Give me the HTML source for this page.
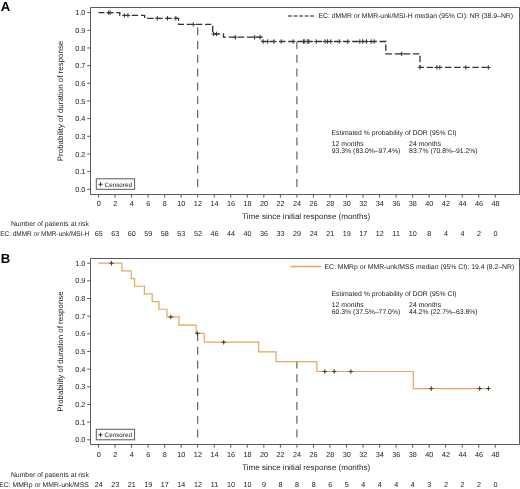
<!DOCTYPE html>
<html><head><meta charset="utf-8"><title>Duration of response</title>
<style>
html,body{margin:0;padding:0;background:#fff;}
body{width:520px;height:489px;overflow:hidden;}
svg{display:block;font-family:'Liberation Sans', Arial, Helvetica, sans-serif;text-rendering:geometricPrecision;}
</style></head><body>
<svg width="520" height="489" viewBox="0 0 520 489" shape-rendering="auto">
<rect width="520" height="489" fill="#fff"/>
<text x="0.7" y="11.2" font-size="13.2" font-weight="bold" fill="#000">A</text>
<path d="M90.5 7.5 H519.5 V194.5 H90.5 Z" fill="none" stroke="#5a5a5a" stroke-width="1"/>
<line x1="87.2" y1="189.3" x2="90.5" y2="189.3" stroke="#5a5a5a" stroke-width="1"/>
<text x="85.4" y="191.9" font-size="7.25" text-anchor="end" fill="#222">0.0</text>
<line x1="87.2" y1="171.63" x2="90.5" y2="171.63" stroke="#5a5a5a" stroke-width="1"/>
<text x="85.4" y="174.23" font-size="7.25" text-anchor="end" fill="#222">0.1</text>
<line x1="87.2" y1="153.96" x2="90.5" y2="153.96" stroke="#5a5a5a" stroke-width="1"/>
<text x="85.4" y="156.56" font-size="7.25" text-anchor="end" fill="#222">0.2</text>
<line x1="87.2" y1="136.29" x2="90.5" y2="136.29" stroke="#5a5a5a" stroke-width="1"/>
<text x="85.4" y="138.89" font-size="7.25" text-anchor="end" fill="#222">0.3</text>
<line x1="87.2" y1="118.62" x2="90.5" y2="118.62" stroke="#5a5a5a" stroke-width="1"/>
<text x="85.4" y="121.22" font-size="7.25" text-anchor="end" fill="#222">0.4</text>
<line x1="87.2" y1="100.95" x2="90.5" y2="100.95" stroke="#5a5a5a" stroke-width="1"/>
<text x="85.4" y="103.55" font-size="7.25" text-anchor="end" fill="#222">0.5</text>
<line x1="87.2" y1="83.28" x2="90.5" y2="83.28" stroke="#5a5a5a" stroke-width="1"/>
<text x="85.4" y="85.88" font-size="7.25" text-anchor="end" fill="#222">0.6</text>
<line x1="87.2" y1="65.61" x2="90.5" y2="65.61" stroke="#5a5a5a" stroke-width="1"/>
<text x="85.4" y="68.21" font-size="7.25" text-anchor="end" fill="#222">0.7</text>
<line x1="87.2" y1="47.94" x2="90.5" y2="47.94" stroke="#5a5a5a" stroke-width="1"/>
<text x="85.4" y="50.54" font-size="7.25" text-anchor="end" fill="#222">0.8</text>
<line x1="87.2" y1="30.27" x2="90.5" y2="30.27" stroke="#5a5a5a" stroke-width="1"/>
<text x="85.4" y="32.87" font-size="7.25" text-anchor="end" fill="#222">0.9</text>
<line x1="87.2" y1="12.6" x2="90.5" y2="12.6" stroke="#5a5a5a" stroke-width="1"/>
<text x="85.4" y="15.2" font-size="7.25" text-anchor="end" fill="#222">1.0</text>
<text transform="translate(63.4 100.95) rotate(-90)" font-size="7.95" text-anchor="middle" fill="#222">Probability of duration of response</text>
<line x1="98.5" y1="194.5" x2="98.5" y2="197.7" stroke="#5a5a5a" stroke-width="1"/>
<text x="98.7" y="206.1" font-size="7.25" text-anchor="middle" fill="#222">0</text>
<text x="98.7" y="235.9" font-size="7.2" text-anchor="middle" fill="#222">65</text>
<line x1="115.03" y1="194.5" x2="115.03" y2="197.7" stroke="#5a5a5a" stroke-width="1"/>
<text x="115.23" y="206.1" font-size="7.25" text-anchor="middle" fill="#222">2</text>
<text x="115.23" y="235.9" font-size="7.2" text-anchor="middle" fill="#222">63</text>
<line x1="131.57" y1="194.5" x2="131.57" y2="197.7" stroke="#5a5a5a" stroke-width="1"/>
<text x="131.77" y="206.1" font-size="7.25" text-anchor="middle" fill="#222">4</text>
<text x="131.77" y="235.9" font-size="7.2" text-anchor="middle" fill="#222">60</text>
<line x1="148.1" y1="194.5" x2="148.1" y2="197.7" stroke="#5a5a5a" stroke-width="1"/>
<text x="148.3" y="206.1" font-size="7.25" text-anchor="middle" fill="#222">6</text>
<text x="148.3" y="235.9" font-size="7.2" text-anchor="middle" fill="#222">59</text>
<line x1="164.63" y1="194.5" x2="164.63" y2="197.7" stroke="#5a5a5a" stroke-width="1"/>
<text x="164.83" y="206.1" font-size="7.25" text-anchor="middle" fill="#222">8</text>
<text x="164.83" y="235.9" font-size="7.2" text-anchor="middle" fill="#222">58</text>
<line x1="181.17" y1="194.5" x2="181.17" y2="197.7" stroke="#5a5a5a" stroke-width="1"/>
<text x="181.37" y="206.1" font-size="7.25" text-anchor="middle" fill="#222">10</text>
<text x="181.37" y="235.9" font-size="7.2" text-anchor="middle" fill="#222">53</text>
<line x1="197.7" y1="194.5" x2="197.7" y2="197.7" stroke="#5a5a5a" stroke-width="1"/>
<text x="197.9" y="206.1" font-size="7.25" text-anchor="middle" fill="#222">12</text>
<text x="197.9" y="235.9" font-size="7.2" text-anchor="middle" fill="#222">52</text>
<line x1="214.23" y1="194.5" x2="214.23" y2="197.7" stroke="#5a5a5a" stroke-width="1"/>
<text x="214.43" y="206.1" font-size="7.25" text-anchor="middle" fill="#222">14</text>
<text x="214.43" y="235.9" font-size="7.2" text-anchor="middle" fill="#222">46</text>
<line x1="230.77" y1="194.5" x2="230.77" y2="197.7" stroke="#5a5a5a" stroke-width="1"/>
<text x="230.97" y="206.1" font-size="7.25" text-anchor="middle" fill="#222">16</text>
<text x="230.97" y="235.9" font-size="7.2" text-anchor="middle" fill="#222">44</text>
<line x1="247.3" y1="194.5" x2="247.3" y2="197.7" stroke="#5a5a5a" stroke-width="1"/>
<text x="247.5" y="206.1" font-size="7.25" text-anchor="middle" fill="#222">18</text>
<text x="247.5" y="235.9" font-size="7.2" text-anchor="middle" fill="#222">40</text>
<line x1="263.83" y1="194.5" x2="263.83" y2="197.7" stroke="#5a5a5a" stroke-width="1"/>
<text x="264.03" y="206.1" font-size="7.25" text-anchor="middle" fill="#222">20</text>
<text x="264.03" y="235.9" font-size="7.2" text-anchor="middle" fill="#222">36</text>
<line x1="280.37" y1="194.5" x2="280.37" y2="197.7" stroke="#5a5a5a" stroke-width="1"/>
<text x="280.57" y="206.1" font-size="7.25" text-anchor="middle" fill="#222">22</text>
<text x="280.57" y="235.9" font-size="7.2" text-anchor="middle" fill="#222">33</text>
<line x1="296.9" y1="194.5" x2="296.9" y2="197.7" stroke="#5a5a5a" stroke-width="1"/>
<text x="297.1" y="206.1" font-size="7.25" text-anchor="middle" fill="#222">24</text>
<text x="297.1" y="235.9" font-size="7.2" text-anchor="middle" fill="#222">29</text>
<line x1="313.43" y1="194.5" x2="313.43" y2="197.7" stroke="#5a5a5a" stroke-width="1"/>
<text x="313.63" y="206.1" font-size="7.25" text-anchor="middle" fill="#222">26</text>
<text x="313.63" y="235.9" font-size="7.2" text-anchor="middle" fill="#222">24</text>
<line x1="329.97" y1="194.5" x2="329.97" y2="197.7" stroke="#5a5a5a" stroke-width="1"/>
<text x="330.17" y="206.1" font-size="7.25" text-anchor="middle" fill="#222">28</text>
<text x="330.17" y="235.9" font-size="7.2" text-anchor="middle" fill="#222">21</text>
<line x1="346.5" y1="194.5" x2="346.5" y2="197.7" stroke="#5a5a5a" stroke-width="1"/>
<text x="346.7" y="206.1" font-size="7.25" text-anchor="middle" fill="#222">30</text>
<text x="346.7" y="235.9" font-size="7.2" text-anchor="middle" fill="#222">19</text>
<line x1="363.03" y1="194.5" x2="363.03" y2="197.7" stroke="#5a5a5a" stroke-width="1"/>
<text x="363.23" y="206.1" font-size="7.25" text-anchor="middle" fill="#222">32</text>
<text x="363.23" y="235.9" font-size="7.2" text-anchor="middle" fill="#222">17</text>
<line x1="379.57" y1="194.5" x2="379.57" y2="197.7" stroke="#5a5a5a" stroke-width="1"/>
<text x="379.77" y="206.1" font-size="7.25" text-anchor="middle" fill="#222">34</text>
<text x="379.77" y="235.9" font-size="7.2" text-anchor="middle" fill="#222">12</text>
<line x1="396.1" y1="194.5" x2="396.1" y2="197.7" stroke="#5a5a5a" stroke-width="1"/>
<text x="396.3" y="206.1" font-size="7.25" text-anchor="middle" fill="#222">36</text>
<text x="396.3" y="235.9" font-size="7.2" text-anchor="middle" fill="#222">11</text>
<line x1="412.63" y1="194.5" x2="412.63" y2="197.7" stroke="#5a5a5a" stroke-width="1"/>
<text x="412.83" y="206.1" font-size="7.25" text-anchor="middle" fill="#222">38</text>
<text x="412.83" y="235.9" font-size="7.2" text-anchor="middle" fill="#222">10</text>
<line x1="429.17" y1="194.5" x2="429.17" y2="197.7" stroke="#5a5a5a" stroke-width="1"/>
<text x="429.37" y="206.1" font-size="7.25" text-anchor="middle" fill="#222">40</text>
<text x="429.37" y="235.9" font-size="7.2" text-anchor="middle" fill="#222">8</text>
<line x1="445.7" y1="194.5" x2="445.7" y2="197.7" stroke="#5a5a5a" stroke-width="1"/>
<text x="445.9" y="206.1" font-size="7.25" text-anchor="middle" fill="#222">42</text>
<text x="445.9" y="235.9" font-size="7.2" text-anchor="middle" fill="#222">4</text>
<line x1="462.23" y1="194.5" x2="462.23" y2="197.7" stroke="#5a5a5a" stroke-width="1"/>
<text x="462.43" y="206.1" font-size="7.25" text-anchor="middle" fill="#222">44</text>
<text x="462.43" y="235.9" font-size="7.2" text-anchor="middle" fill="#222">4</text>
<line x1="478.77" y1="194.5" x2="478.77" y2="197.7" stroke="#5a5a5a" stroke-width="1"/>
<text x="478.97" y="206.1" font-size="7.25" text-anchor="middle" fill="#222">46</text>
<text x="478.97" y="235.9" font-size="7.2" text-anchor="middle" fill="#222">2</text>
<line x1="495.3" y1="194.5" x2="495.3" y2="197.7" stroke="#5a5a5a" stroke-width="1"/>
<text x="495.5" y="206.1" font-size="7.25" text-anchor="middle" fill="#222">48</text>
<text x="495.5" y="235.9" font-size="7.2" text-anchor="middle" fill="#222">0</text>
<text x="306.2" y="219.4" font-size="8.03" text-anchor="middle" fill="#222">Time since initial response (months)</text>
<text x="88.9" y="226" font-size="6.85" text-anchor="end" fill="#222">Number of patients at risk</text>
<text x="89.2" y="235.9" font-size="6.85" text-anchor="end" fill="#222" transform="translate(89.2 0) scale(0.944 1) translate(-89.2 0)">EC: dMMR or MMR-unk/MSI-H</text>
<line x1="197.7" y1="189.3" x2="197.7" y2="24.4" stroke="#555" stroke-width="1.1" stroke-dasharray="8 5.8" stroke-dashoffset="11.5"/>
<line x1="296.9" y1="189.3" x2="296.9" y2="41.5" stroke="#555" stroke-width="1.1" stroke-dasharray="8 5.8" stroke-dashoffset="11.5"/>
<path d="M98.5 12.6 L119.8 12.6 L119.8 15.4 L144.6 15.4 L144.6 18.3 L178.6 18.3 L178.6 24.4 L212.7 24.4 L212.7 33.9 L223.5 33.9 L223.5 37.2 L262 37.2 L262 41.5 L385.8 41.5 L385.8 53.8 L420 53.8 L420 67.4 L488.8 67.4" fill="none" stroke="#3f2845" stroke-width="1.3" stroke-dasharray="6.4 2.73" stroke-dashoffset="0.43"/>
<path d="M108.6 10.4 V14.8 M106.4 12.6 H110.8" stroke="#3a3a3a" stroke-width="1.05" fill="none"/>
<path d="M110.2 10.4 V14.8 M108 12.6 H112.4" stroke="#3a3a3a" stroke-width="1.05" fill="none"/>
<path d="M124.4 13.2 V17.6 M122.2 15.4 H126.6" stroke="#3a3a3a" stroke-width="1.05" fill="none"/>
<path d="M127.9 13.2 V17.6 M125.7 15.4 H130.1" stroke="#3a3a3a" stroke-width="1.05" fill="none"/>
<path d="M157.3 16.1 V20.5 M155.1 18.3 H159.5" stroke="#3a3a3a" stroke-width="1.05" fill="none"/>
<path d="M167.5 16.1 V20.5 M165.3 18.3 H169.7" stroke="#3a3a3a" stroke-width="1.05" fill="none"/>
<path d="M175.8 16.1 V20.5 M173.6 18.3 H178" stroke="#3a3a3a" stroke-width="1.05" fill="none"/>
<path d="M193.3 22.2 V26.6 M191.1 24.4 H195.5" stroke="#3a3a3a" stroke-width="1.05" fill="none"/>
<path d="M213.6 31.7 V36.1 M211.4 33.9 H215.8" stroke="#3a3a3a" stroke-width="1.05" fill="none"/>
<path d="M216.5 31.7 V36.1 M214.3 33.9 H218.7" stroke="#3a3a3a" stroke-width="1.05" fill="none"/>
<path d="M235.3 35 V39.4 M233.1 37.2 H237.5" stroke="#3a3a3a" stroke-width="1.05" fill="none"/>
<path d="M254.6 35 V39.4 M252.4 37.2 H256.8" stroke="#3a3a3a" stroke-width="1.05" fill="none"/>
<path d="M260.1 35 V39.4 M257.9 37.2 H262.3" stroke="#3a3a3a" stroke-width="1.05" fill="none"/>
<path d="M263.2 39.3 V43.7 M261 41.5 H265.4" stroke="#3a3a3a" stroke-width="1.05" fill="none"/>
<path d="M267.7 39.3 V43.7 M265.5 41.5 H269.9" stroke="#3a3a3a" stroke-width="1.05" fill="none"/>
<path d="M273.8 39.3 V43.7 M271.6 41.5 H276" stroke="#3a3a3a" stroke-width="1.05" fill="none"/>
<path d="M281.2 39.3 V43.7 M279 41.5 H283.4" stroke="#3a3a3a" stroke-width="1.05" fill="none"/>
<path d="M293.2 39.3 V43.7 M291 41.5 H295.4" stroke="#3a3a3a" stroke-width="1.05" fill="none"/>
<path d="M303.5 39.3 V43.7 M301.3 41.5 H305.7" stroke="#3a3a3a" stroke-width="1.05" fill="none"/>
<path d="M304.8 39.3 V43.7 M302.6 41.5 H307" stroke="#3a3a3a" stroke-width="1.05" fill="none"/>
<path d="M307.7 39.3 V43.7 M305.5 41.5 H309.9" stroke="#3a3a3a" stroke-width="1.05" fill="none"/>
<path d="M308.8 39.3 V43.7 M306.6 41.5 H311" stroke="#3a3a3a" stroke-width="1.05" fill="none"/>
<path d="M316.2 39.3 V43.7 M314 41.5 H318.4" stroke="#3a3a3a" stroke-width="1.05" fill="none"/>
<path d="M325 39.3 V43.7 M322.8 41.5 H327.2" stroke="#3a3a3a" stroke-width="1.05" fill="none"/>
<path d="M327.5 39.3 V43.7 M325.3 41.5 H329.7" stroke="#3a3a3a" stroke-width="1.05" fill="none"/>
<path d="M330.8 39.3 V43.7 M328.6 41.5 H333" stroke="#3a3a3a" stroke-width="1.05" fill="none"/>
<path d="M339.2 39.3 V43.7 M337 41.5 H341.4" stroke="#3a3a3a" stroke-width="1.05" fill="none"/>
<path d="M347.7 39.3 V43.7 M345.5 41.5 H349.9" stroke="#3a3a3a" stroke-width="1.05" fill="none"/>
<path d="M359.8 39.3 V43.7 M357.6 41.5 H362" stroke="#3a3a3a" stroke-width="1.05" fill="none"/>
<path d="M362.7 39.3 V43.7 M360.5 41.5 H364.9" stroke="#3a3a3a" stroke-width="1.05" fill="none"/>
<path d="M366.5 39.3 V43.7 M364.3 41.5 H368.7" stroke="#3a3a3a" stroke-width="1.05" fill="none"/>
<path d="M371.2 39.3 V43.7 M369 41.5 H373.4" stroke="#3a3a3a" stroke-width="1.05" fill="none"/>
<path d="M374.2 39.3 V43.7 M372 41.5 H376.4" stroke="#3a3a3a" stroke-width="1.05" fill="none"/>
<path d="M401.7 51.6 V56 M399.5 53.8 H403.9" stroke="#3a3a3a" stroke-width="1.05" fill="none"/>
<path d="M420 65.2 V69.6 M417.8 67.4 H422.2" stroke="#3a3a3a" stroke-width="1.05" fill="none"/>
<path d="M436.9 65.2 V69.6 M434.7 67.4 H439.1" stroke="#3a3a3a" stroke-width="1.05" fill="none"/>
<path d="M439.8 65.2 V69.6 M437.6 67.4 H442" stroke="#3a3a3a" stroke-width="1.05" fill="none"/>
<path d="M465.8 65.2 V69.6 M463.6 67.4 H468" stroke="#3a3a3a" stroke-width="1.05" fill="none"/>
<path d="M488.4 65.2 V69.6 M486.2 67.4 H490.6" stroke="#3a3a3a" stroke-width="1.05" fill="none"/>
<line x1="288.1" y1="16" x2="313.9" y2="16" stroke="#6a5470" stroke-width="1.5" stroke-dasharray="3.7 1.82"/>
<text x="318.4" y="17.9" font-size="6.85" fill="#222">EC: dMMR or MMR-unk/MSI-H median (95% CI): NR (38.9–NR)</text>
<text x="331.5" y="134.8" font-size="6.85" fill="#222">Estimated % probability of DOR (95% CI)</text>
<text x="331.8" y="146.2" font-size="6.85" fill="#222">12 months</text>
<text x="331.8" y="153.2" font-size="6.85" fill="#222">93.3% (83.0%–97.4%)</text>
<text x="409.1" y="146.2" font-size="6.85" fill="#222">24 months</text>
<text x="409.1" y="153.2" font-size="6.85" fill="#222">83.7% (70.8%–91.2%)</text>
<rect x="96.3" y="178.8" width="38.3" height="10.5" fill="#fff" stroke="#5a5a5a" stroke-width="1"/>
<path d="M98.4 184.3 H102.6 M100.5 182.2 V186.4" stroke="#222" stroke-width="0.9"/>
<text x="104.6" y="186.6" font-size="6.3" fill="#222">Censored</text>
<text x="0.7" y="262.8" font-size="13.2" font-weight="bold" fill="#000">B</text>
<path d="M90.5 258.5 H519.5 V444.5 H90.5 Z" fill="none" stroke="#5a5a5a" stroke-width="1"/>
<line x1="87.2" y1="439.8" x2="90.5" y2="439.8" stroke="#5a5a5a" stroke-width="1"/>
<text x="85.4" y="442.4" font-size="7.25" text-anchor="end" fill="#222">0.0</text>
<line x1="87.2" y1="422.14" x2="90.5" y2="422.14" stroke="#5a5a5a" stroke-width="1"/>
<text x="85.4" y="424.74" font-size="7.25" text-anchor="end" fill="#222">0.1</text>
<line x1="87.2" y1="404.48" x2="90.5" y2="404.48" stroke="#5a5a5a" stroke-width="1"/>
<text x="85.4" y="407.08" font-size="7.25" text-anchor="end" fill="#222">0.2</text>
<line x1="87.2" y1="386.82" x2="90.5" y2="386.82" stroke="#5a5a5a" stroke-width="1"/>
<text x="85.4" y="389.42" font-size="7.25" text-anchor="end" fill="#222">0.3</text>
<line x1="87.2" y1="369.16" x2="90.5" y2="369.16" stroke="#5a5a5a" stroke-width="1"/>
<text x="85.4" y="371.76" font-size="7.25" text-anchor="end" fill="#222">0.4</text>
<line x1="87.2" y1="351.5" x2="90.5" y2="351.5" stroke="#5a5a5a" stroke-width="1"/>
<text x="85.4" y="354.1" font-size="7.25" text-anchor="end" fill="#222">0.5</text>
<line x1="87.2" y1="333.84" x2="90.5" y2="333.84" stroke="#5a5a5a" stroke-width="1"/>
<text x="85.4" y="336.44" font-size="7.25" text-anchor="end" fill="#222">0.6</text>
<line x1="87.2" y1="316.18" x2="90.5" y2="316.18" stroke="#5a5a5a" stroke-width="1"/>
<text x="85.4" y="318.78" font-size="7.25" text-anchor="end" fill="#222">0.7</text>
<line x1="87.2" y1="298.52" x2="90.5" y2="298.52" stroke="#5a5a5a" stroke-width="1"/>
<text x="85.4" y="301.12" font-size="7.25" text-anchor="end" fill="#222">0.8</text>
<line x1="87.2" y1="280.86" x2="90.5" y2="280.86" stroke="#5a5a5a" stroke-width="1"/>
<text x="85.4" y="283.46" font-size="7.25" text-anchor="end" fill="#222">0.9</text>
<line x1="87.2" y1="263.2" x2="90.5" y2="263.2" stroke="#5a5a5a" stroke-width="1"/>
<text x="85.4" y="265.8" font-size="7.25" text-anchor="end" fill="#222">1.0</text>
<text transform="translate(63.4 351.5) rotate(-90)" font-size="7.95" text-anchor="middle" fill="#222">Probability of duration of response</text>
<line x1="98.5" y1="444.5" x2="98.5" y2="447.7" stroke="#5a5a5a" stroke-width="1"/>
<text x="98.7" y="456.6" font-size="7.25" text-anchor="middle" fill="#222">0</text>
<text x="98.7" y="486.6" font-size="7.2" text-anchor="middle" fill="#222">24</text>
<line x1="115.03" y1="444.5" x2="115.03" y2="447.7" stroke="#5a5a5a" stroke-width="1"/>
<text x="115.23" y="456.6" font-size="7.25" text-anchor="middle" fill="#222">2</text>
<text x="115.23" y="486.6" font-size="7.2" text-anchor="middle" fill="#222">23</text>
<line x1="131.57" y1="444.5" x2="131.57" y2="447.7" stroke="#5a5a5a" stroke-width="1"/>
<text x="131.77" y="456.6" font-size="7.25" text-anchor="middle" fill="#222">4</text>
<text x="131.77" y="486.6" font-size="7.2" text-anchor="middle" fill="#222">21</text>
<line x1="148.1" y1="444.5" x2="148.1" y2="447.7" stroke="#5a5a5a" stroke-width="1"/>
<text x="148.3" y="456.6" font-size="7.25" text-anchor="middle" fill="#222">6</text>
<text x="148.3" y="486.6" font-size="7.2" text-anchor="middle" fill="#222">19</text>
<line x1="164.63" y1="444.5" x2="164.63" y2="447.7" stroke="#5a5a5a" stroke-width="1"/>
<text x="164.83" y="456.6" font-size="7.25" text-anchor="middle" fill="#222">8</text>
<text x="164.83" y="486.6" font-size="7.2" text-anchor="middle" fill="#222">17</text>
<line x1="181.17" y1="444.5" x2="181.17" y2="447.7" stroke="#5a5a5a" stroke-width="1"/>
<text x="181.37" y="456.6" font-size="7.25" text-anchor="middle" fill="#222">10</text>
<text x="181.37" y="486.6" font-size="7.2" text-anchor="middle" fill="#222">14</text>
<line x1="197.7" y1="444.5" x2="197.7" y2="447.7" stroke="#5a5a5a" stroke-width="1"/>
<text x="197.9" y="456.6" font-size="7.25" text-anchor="middle" fill="#222">12</text>
<text x="197.9" y="486.6" font-size="7.2" text-anchor="middle" fill="#222">12</text>
<line x1="214.23" y1="444.5" x2="214.23" y2="447.7" stroke="#5a5a5a" stroke-width="1"/>
<text x="214.43" y="456.6" font-size="7.25" text-anchor="middle" fill="#222">14</text>
<text x="214.43" y="486.6" font-size="7.2" text-anchor="middle" fill="#222">11</text>
<line x1="230.77" y1="444.5" x2="230.77" y2="447.7" stroke="#5a5a5a" stroke-width="1"/>
<text x="230.97" y="456.6" font-size="7.25" text-anchor="middle" fill="#222">16</text>
<text x="230.97" y="486.6" font-size="7.2" text-anchor="middle" fill="#222">10</text>
<line x1="247.3" y1="444.5" x2="247.3" y2="447.7" stroke="#5a5a5a" stroke-width="1"/>
<text x="247.5" y="456.6" font-size="7.25" text-anchor="middle" fill="#222">18</text>
<text x="247.5" y="486.6" font-size="7.2" text-anchor="middle" fill="#222">10</text>
<line x1="263.83" y1="444.5" x2="263.83" y2="447.7" stroke="#5a5a5a" stroke-width="1"/>
<text x="264.03" y="456.6" font-size="7.25" text-anchor="middle" fill="#222">20</text>
<text x="264.03" y="486.6" font-size="7.2" text-anchor="middle" fill="#222">9</text>
<line x1="280.37" y1="444.5" x2="280.37" y2="447.7" stroke="#5a5a5a" stroke-width="1"/>
<text x="280.57" y="456.6" font-size="7.25" text-anchor="middle" fill="#222">22</text>
<text x="280.57" y="486.6" font-size="7.2" text-anchor="middle" fill="#222">8</text>
<line x1="296.9" y1="444.5" x2="296.9" y2="447.7" stroke="#5a5a5a" stroke-width="1"/>
<text x="297.1" y="456.6" font-size="7.25" text-anchor="middle" fill="#222">24</text>
<text x="297.1" y="486.6" font-size="7.2" text-anchor="middle" fill="#222">8</text>
<line x1="313.43" y1="444.5" x2="313.43" y2="447.7" stroke="#5a5a5a" stroke-width="1"/>
<text x="313.63" y="456.6" font-size="7.25" text-anchor="middle" fill="#222">26</text>
<text x="313.63" y="486.6" font-size="7.2" text-anchor="middle" fill="#222">8</text>
<line x1="329.97" y1="444.5" x2="329.97" y2="447.7" stroke="#5a5a5a" stroke-width="1"/>
<text x="330.17" y="456.6" font-size="7.25" text-anchor="middle" fill="#222">28</text>
<text x="330.17" y="486.6" font-size="7.2" text-anchor="middle" fill="#222">6</text>
<line x1="346.5" y1="444.5" x2="346.5" y2="447.7" stroke="#5a5a5a" stroke-width="1"/>
<text x="346.7" y="456.6" font-size="7.25" text-anchor="middle" fill="#222">30</text>
<text x="346.7" y="486.6" font-size="7.2" text-anchor="middle" fill="#222">5</text>
<line x1="363.03" y1="444.5" x2="363.03" y2="447.7" stroke="#5a5a5a" stroke-width="1"/>
<text x="363.23" y="456.6" font-size="7.25" text-anchor="middle" fill="#222">32</text>
<text x="363.23" y="486.6" font-size="7.2" text-anchor="middle" fill="#222">4</text>
<line x1="379.57" y1="444.5" x2="379.57" y2="447.7" stroke="#5a5a5a" stroke-width="1"/>
<text x="379.77" y="456.6" font-size="7.25" text-anchor="middle" fill="#222">34</text>
<text x="379.77" y="486.6" font-size="7.2" text-anchor="middle" fill="#222">4</text>
<line x1="396.1" y1="444.5" x2="396.1" y2="447.7" stroke="#5a5a5a" stroke-width="1"/>
<text x="396.3" y="456.6" font-size="7.25" text-anchor="middle" fill="#222">36</text>
<text x="396.3" y="486.6" font-size="7.2" text-anchor="middle" fill="#222">4</text>
<line x1="412.63" y1="444.5" x2="412.63" y2="447.7" stroke="#5a5a5a" stroke-width="1"/>
<text x="412.83" y="456.6" font-size="7.25" text-anchor="middle" fill="#222">38</text>
<text x="412.83" y="486.6" font-size="7.2" text-anchor="middle" fill="#222">4</text>
<line x1="429.17" y1="444.5" x2="429.17" y2="447.7" stroke="#5a5a5a" stroke-width="1"/>
<text x="429.37" y="456.6" font-size="7.25" text-anchor="middle" fill="#222">40</text>
<text x="429.37" y="486.6" font-size="7.2" text-anchor="middle" fill="#222">3</text>
<line x1="445.7" y1="444.5" x2="445.7" y2="447.7" stroke="#5a5a5a" stroke-width="1"/>
<text x="445.9" y="456.6" font-size="7.25" text-anchor="middle" fill="#222">42</text>
<text x="445.9" y="486.6" font-size="7.2" text-anchor="middle" fill="#222">2</text>
<line x1="462.23" y1="444.5" x2="462.23" y2="447.7" stroke="#5a5a5a" stroke-width="1"/>
<text x="462.43" y="456.6" font-size="7.25" text-anchor="middle" fill="#222">44</text>
<text x="462.43" y="486.6" font-size="7.2" text-anchor="middle" fill="#222">2</text>
<line x1="478.77" y1="444.5" x2="478.77" y2="447.7" stroke="#5a5a5a" stroke-width="1"/>
<text x="478.97" y="456.6" font-size="7.25" text-anchor="middle" fill="#222">46</text>
<text x="478.97" y="486.6" font-size="7.2" text-anchor="middle" fill="#222">2</text>
<line x1="495.3" y1="444.5" x2="495.3" y2="447.7" stroke="#5a5a5a" stroke-width="1"/>
<text x="495.5" y="456.6" font-size="7.25" text-anchor="middle" fill="#222">48</text>
<text x="495.5" y="486.6" font-size="7.2" text-anchor="middle" fill="#222">0</text>
<text x="306.2" y="469.9" font-size="8.03" text-anchor="middle" fill="#222">Time since initial response (months)</text>
<text x="88.9" y="476.7" font-size="6.85" text-anchor="end" fill="#222">Number of patients at risk</text>
<text x="88.9" y="486.6" font-size="6.85" text-anchor="end" fill="#222" >EC: MMRp or MMR-unk/MSS</text>
<line x1="197.7" y1="439.8" x2="197.7" y2="333.33" stroke="#555" stroke-width="1.1" stroke-dasharray="8 5.8" stroke-dashoffset="11.5"/>
<line x1="296.9" y1="439.8" x2="296.9" y2="361.72" stroke="#555" stroke-width="1.1" stroke-dasharray="8 5.8" stroke-dashoffset="11.5"/>
<path d="M98.5 263.2 L121.9 263.2 L121.9 270.88 L131.3 270.88 L131.3 278.56 L134.6 278.56 L134.6 286.23 L144.4 286.23 L144.4 293.91 L152.2 293.91 L152.2 301.59 L158.9 301.59 L158.9 309.27 L166.9 309.27 L166.9 316.95 L178.9 316.95 L178.9 325.14 L196.3 325.14 L196.3 333.33 L204.3 333.33 L204.3 342.2 L258.7 342.2 L258.7 351.96 L276 351.96 L276 361.72 L316.9 361.72 L316.9 371.48 L413.3 371.48 L413.3 388.56 L488.8 388.56" fill="none" stroke="#e2a85c" stroke-width="1.2"/>
<path d="M111.5 261 V265.4 M109.3 263.2 H113.7" stroke="#3a3a3a" stroke-width="1.05" fill="none"/>
<path d="M170.8 314.75 V319.15 M168.6 316.95 H173" stroke="#3a3a3a" stroke-width="1.05" fill="none"/>
<path d="M197.3 331.13 V335.53 M195.1 333.33 H199.5" stroke="#3a3a3a" stroke-width="1.05" fill="none"/>
<path d="M223.7 340 V344.4 M221.5 342.2 H225.9" stroke="#3a3a3a" stroke-width="1.05" fill="none"/>
<path d="M324.8 369.28 V373.68 M322.6 371.48 H327" stroke="#3a3a3a" stroke-width="1.05" fill="none"/>
<path d="M334.2 369.28 V373.68 M332 371.48 H336.4" stroke="#3a3a3a" stroke-width="1.05" fill="none"/>
<path d="M350.9 369.28 V373.68 M348.7 371.48 H353.1" stroke="#3a3a3a" stroke-width="1.05" fill="none"/>
<path d="M431.3 386.36 V390.76 M429.1 388.56 H433.5" stroke="#3a3a3a" stroke-width="1.05" fill="none"/>
<path d="M479.7 386.36 V390.76 M477.5 388.56 H481.9" stroke="#3a3a3a" stroke-width="1.05" fill="none"/>
<path d="M488.4 386.36 V390.76 M486.2 388.56 H490.6" stroke="#3a3a3a" stroke-width="1.05" fill="none"/>
<line x1="290.5" y1="266.5" x2="321" y2="266.5" stroke="#e2a455" stroke-width="1.5"/>
<text x="324.4" y="268.8" font-size="6.85" fill="#222">EC: MMRp or MMR-unk/MSS median (95% CI): 19.4 (8.2–NR)</text>
<text x="331.5" y="296.1" font-size="6.85" fill="#222">Estimated % probability of DOR (95% CI)</text>
<text x="331.8" y="306.6" font-size="6.85" fill="#222">12 months</text>
<text x="331.8" y="314.4" font-size="6.85" fill="#222">60.3% (37.5%–77.0%)</text>
<text x="409.1" y="306.6" font-size="6.85" fill="#222">24 months</text>
<text x="409.1" y="314.4" font-size="6.85" fill="#222">44.2% (22.7%–63.8%)</text>
<rect x="96.3" y="429.3" width="38.3" height="10.5" fill="#fff" stroke="#5a5a5a" stroke-width="1"/>
<path d="M98.4 434.8 H102.6 M100.5 432.7 V436.9" stroke="#222" stroke-width="0.9"/>
<text x="104.6" y="437.1" font-size="6.3" fill="#222">Censored</text>
</svg>
</body></html>
